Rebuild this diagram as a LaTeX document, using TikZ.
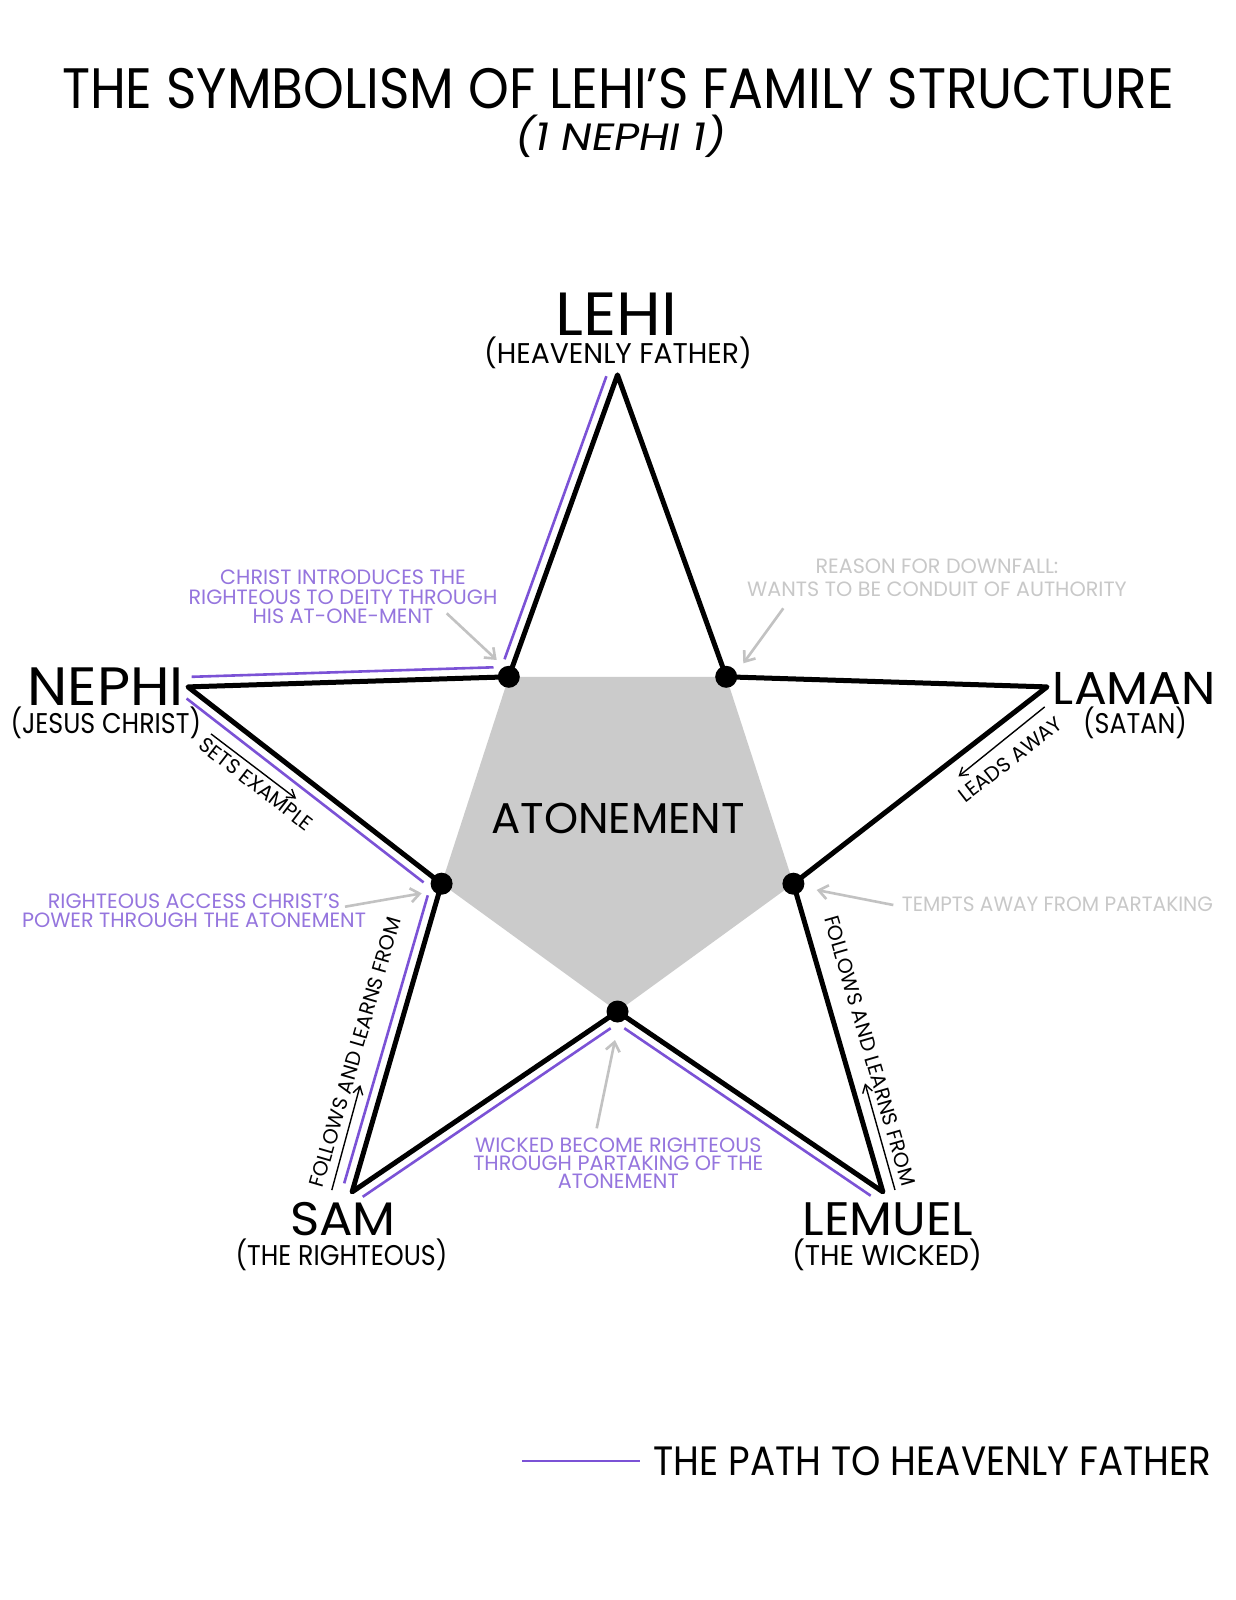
\documentclass[tikz,border=0pt]{standalone}
\usepackage{fontspec}
\setmainfont{Poppins}[FakeStretch=0.98]
\newfontfamily\titlefam{Poppins}[FakeStretch=0.91]
\newfontfamily\namefam{Poppins}[FakeStretch=1.06]
\newfontfamily\atonefam{Poppins}[FakeStretch=1.01]
\newfontfamily\subfam{Poppins}[FakeStretch=0.99]
\newfontfamily\subnarrowfam{Poppins}[FakeStretch=0.89]
\newfontfamily\smallfam{Poppins}[FakeStretch=1.0]
\newfontfamily\slantfam{Poppins}[FakeStretch=1.15,FakeSlant=0.18]
\usetikzlibrary{arrows.meta}
\definecolor{pathpurple}{HTML}{7B52D6}
\definecolor{notepurple}{HTML}{9575DE}
\definecolor{notegray}{HTML}{C8C8C8}
\definecolor{arrowgray}{HTML}{C2C2C2}
\definecolor{atonegray}{HTML}{CBCBCB}
\tikzset{
  starline/.style={line width=5pt, line join=round, line cap=round},
  purpleline/.style={pathpurple, line width=2.6pt},
  dotnode/.style={circle, fill=black, inner sep=0pt, minimum size=22pt},
  bigname/.style={anchor=base, inner sep=0pt, font=\namefam\fontsize{#1}{#1}\selectfont},
  subname/.style={anchor=base, inner sep=0pt, font=\subfam\fontsize{#1}{#1}\selectfont},
  subnarrow/.style={anchor=base, inner sep=0pt, font=\subnarrowfam\fontsize{#1}{#1}\selectfont},
  titletext/.style={anchor=base, inner sep=0pt, font=\titlefam\fontsize{#1}{#1}\selectfont},
  notetext/.style={align=center, inner sep=0pt, font=\smallfam\fontsize{20.7}{#1}\selectfont},
  rotlabel/.style={inner sep=0pt, font=\smallfam\fontsize{20.5}{20.5}\selectfont},
  grayarrow/.style={arrowgray, line width=2.6pt, -{Straight Barb[length=9pt,width=14pt]}},
  blackarrow/.style={black, line width=1.4pt, -{Straight Barb[length=8pt,width=10pt]}}
}
\begin{document}
\begin{tikzpicture}[x=1pt,y=-1pt]
\fill[white] (0,0) rectangle (1236,1600);
\useasboundingbox (0,0) rectangle (1236,1600);
% star tips
\coordinate (lehi) at (617.5,374.9);
\coordinate (laman) at (1047,686.9);
\coordinate (lemuel) at (882.9,1191.9);
\coordinate (sam) at (352.1,1191.9);
\coordinate (nephi) at (188,686.9);
% inner points
\coordinate (ul) at (508.8,676.8);
\coordinate (ur) at (726.2,676.8);
\coordinate (rr) at (793.4,883.7);
\coordinate (ll) at (441.6,883.7);
\coordinate (bb) at (617.5,1011.5);
% atonement pentagon
\fill[atonegray] (ul) -- (ur) -- (rr) -- (bb) -- (ll) -- cycle;
% purple path
\coordinate (p1a) at (606.4,376.2); \coordinate (p1b) at (504.5,659.3);
\coordinate (p2a) at (493.5,667.3); \coordinate (p2b) at (191.7,676.8);
\coordinate (p3a) at (186.6,698.5); \coordinate (p3b) at (423.6,882.4);
\coordinate (p4a) at (427.8,895.3); \coordinate (p4b) at (344.2,1183.3);
\coordinate (p5a) at (362.7,1196.8); \coordinate (p5b) at (610.7,1028.2);
\coordinate (p6a) at (624.3,1028.2); \coordinate (p6b) at (870.7,1195.7);
\draw[purpleline] (p1a) -- (p1b);
\draw[purpleline] (p2a) -- (p2b);
\draw[purpleline] (p3a) -- (p3b);
\draw[purpleline] (p4a) -- (p4b);
\draw[purpleline] (p5a) -- (p5b);
\draw[purpleline] (p6a) -- (p6b);
% star
\draw[starline] (lehi) -- (ur) -- (laman) -- (rr) -- (lemuel) -- (bb) -- (sam) -- (ll) -- (nephi) -- (ul) -- cycle;
\node[dotnode] (uldot) at (ul) {};
\node[dotnode] (urdot) at (ur) {};
\node[dotnode] (rrdot) at (rr) {};
\node[dotnode] (lldot) at (ll) {};
\node[dotnode] (bbdot) at (bb) {};
% titles
\node[titletext=57] (title) at (618,109) {THE SYMBOLISM OF LEHI’S FAMILY STRUCTURE};
\node[anchor=base, inner sep=0pt, font=\slantfam\fontsize{38}{38}\selectfont] (subtitle) at (619,150) {(1 NEPHI 1)};
% names
\node[bigname=61] (lehiname) at (616.7,335) {LEHI};
\node[subname=28.5] (lehisub) at (618,363) {(HEAVENLY FATHER)};
\node[bigname=54] (nephiname) at (105.8,705) {NEPHI};
\node[subnarrow=28.5] (nephisub) at (105.8,733) {(JESUS CHRIST)};
\node[bigname=46] (lamanname) at (1134.5,704) {LAMAN};
\node[subnarrow=28.5] (lamansub) at (1135,733) {(SATAN)};
\node[bigname=47] (samname) at (343,1235) {SAM};
\node[subnarrow=28.5] (samsub) at (341.5,1265) {(THE RIGHTEOUS)};
\node[bigname=47] (lemuelname) at (888,1235) {LEMUEL};
\node[subname=28.5] (lemuelsub) at (887,1265) {(THE WICKED)};
\node[anchor=base, inner sep=0pt, font=\atonefam\fontsize{43}{43}\selectfont] (atone) at (618,833) {ATONEMENT};
% annotations
\node[notetext=19.5, text=notepurple] (christ) at (343,597.2) {CHRIST INTRODUCES THE\\RIGHTEOUS TO DEITY THROUGH\\HIS AT-ONE-MENT};
\node[notetext=22.6, text=notegray] (reason) at (937,578) {REASON FOR DOWNFALL:\\WANTS TO BE CONDUIT OF AUTHORITY};
\node[notetext=18.3, text=notepurple] (access) at (194,910.9) {RIGHTEOUS ACCESS CHRIST’S\\POWER THROUGH THE ATONEMENT};
\node[notetext=18.3, text=notegray, anchor=west, xscale=0.97] (tempts) at (901.7,904) {TEMPTS AWAY FROM PARTAKING};
\node[notetext=18.3, text=notepurple] (wicked) at (618.3,1163.3) {WICKED BECOME RIGHTEOUS\\THROUGH PARTAKING OF THE\\ATONEMENT};
% gray pointers
\coordinate (g1a) at (446.7,613.3); \coordinate (g1b) at (496.7,660);
\coordinate (g2a) at (783.3,608.3); \coordinate (g2b) at (743.3,663.3);
\coordinate (g3a) at (345,906.7);   \coordinate (g3b) at (421.7,893.3);
\coordinate (g4a) at (893.3,905);   \coordinate (g4b) at (816.7,890);
\coordinate (g5a) at (596.7,1128.3); \coordinate (g5b) at (615,1040);
\draw[grayarrow] (g1a) -- (g1b);
\draw[grayarrow] (g2a) -- (g2b);
\draw[grayarrow] (g3a) -- (g3b);
\draw[grayarrow] (g4a) -- (g4b);
\draw[grayarrow] (g5a) -- (g5b);
% edge labels
\node[rotlabel, rotate=-37.8] (sets) at (256,784.2) {SETS EXAMPLE};
\node[rotlabel, rotate=37.8] (leads) at (1010.5,759.5) {LEADS AWAY};
\node[rotlabel, rotate=73.8] (samfollow) at (355.1,1052.4) {FOLLOWS AND LEARNS FROM};
\node[rotlabel, rotate=-73.8] (lemfollow) at (870,1050.5) {FOLLOWS AND LEARNS FROM};
\coordinate (b1a) at (211,733.9);    \coordinate (b1b) at (296.2,798.7);
\coordinate (b2a) at (1044.7,706.9); \coordinate (b2b) at (958.4,776.5);
\coordinate (b3a) at (331.8,1190.1); \coordinate (b3b) at (360.3,1085);
\coordinate (b4a) at (895,1190);     \coordinate (b4b) at (865,1083.3);
\draw[blackarrow] (b1a) -- (b1b);
\draw[blackarrow] (b2a) -- (b2b);
\draw[blackarrow] (b3a) -- (b3b);
\draw[blackarrow] (b4a) -- (b4b);
% legend
\node[titletext=41] (legend) at (932.5,1475) {THE PATH TO HEAVENLY FATHER};
\coordinate (lega) at (522,1461); \coordinate (legb) at (640,1461);
\draw[purpleline] (lega) -- (legb);
\end{tikzpicture}
\end{document}
